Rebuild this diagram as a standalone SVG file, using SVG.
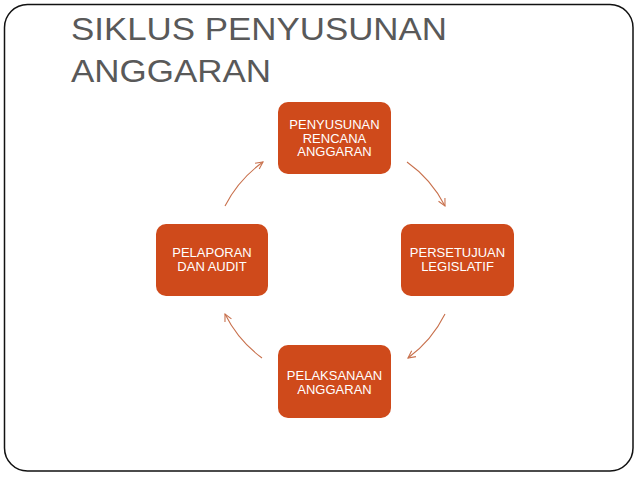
<svg xmlns="http://www.w3.org/2000/svg" width="638" height="479" viewBox="0 0 638 479">
<defs>
<style>
.title{font-family:"Liberation Sans",Arial,sans-serif;font-size:32px;fill:#595959}
.box{fill:#CF4A1B}
.lbl{font-family:"Liberation Sans",Arial,sans-serif;font-size:13px;fill:#ffffff;text-anchor:middle}
.arc{fill:none;stroke:#C8704C;stroke-width:1.1}
</style>
<marker id="ah" viewBox="0 0 10 10" refX="9" refY="5" markerWidth="9" markerHeight="9" markerUnits="userSpaceOnUse" orient="auto">
<path d="M1,1 L9,5 L1,9" fill="none" stroke="#C8704C" stroke-width="1.2"/>
</marker>
</defs>
<rect width="638" height="479" fill="#ffffff"/>
<rect x="4.5" y="4.5" width="628.5" height="466.5" rx="23" ry="23" fill="none" stroke="#111111" stroke-width="1.5"/>
<g id="title">
<text class="title" x="71" y="40" textLength="376" lengthAdjust="spacingAndGlyphs">SIKLUS PENYUSUNAN</text>
<text class="title" x="71" y="82" textLength="200" lengthAdjust="spacingAndGlyphs">ANGGARAN</text>
</g>
<g id="connectors">
<path class="arc" d="M225,206 A122,122 0 0 1 263,162" marker-end="url(#ah)"/>
<path class="arc" d="M407,162 A122,122 0 0 1 445,206" marker-end="url(#ah)"/>
<path class="arc" d="M445,314 A122,122 0 0 1 408,358" marker-end="url(#ah)"/>
<path class="arc" d="M262,358 A122,122 0 0 1 225,314" marker-end="url(#ah)"/>
</g>
<g id="node-penyusunan">
<rect class="box" x="278" y="102" width="113" height="72" rx="10"/>
<text class="lbl" x="334.5" y="129">PENYUSUNAN</text>
<text class="lbl" x="334.5" y="142.5">RENCANA</text>
<text class="lbl" x="334.5" y="156">ANGGARAN</text>
</g>
<g id="node-persetujuan">
<rect class="box" x="401" y="224" width="113" height="72" rx="10"/>
<text class="lbl" x="457.5" y="257">PERSETUJUAN</text>
<text class="lbl" x="457.5" y="270.5">LEGISLATIF</text>
</g>
<g id="node-pelaksanaan">
<rect class="box" x="278" y="345" width="113" height="73" rx="10"/>
<text class="lbl" x="334.5" y="380">PELAKSANAAN</text>
<text class="lbl" x="334.5" y="393.5">ANGGARAN</text>
</g>
<g id="node-pelaporan">
<rect class="box" x="156" y="224" width="112" height="72" rx="10"/>
<text class="lbl" x="212" y="257">PELAPORAN</text>
<text class="lbl" x="212" y="270.5">DAN AUDIT</text>
</g>
</svg>
